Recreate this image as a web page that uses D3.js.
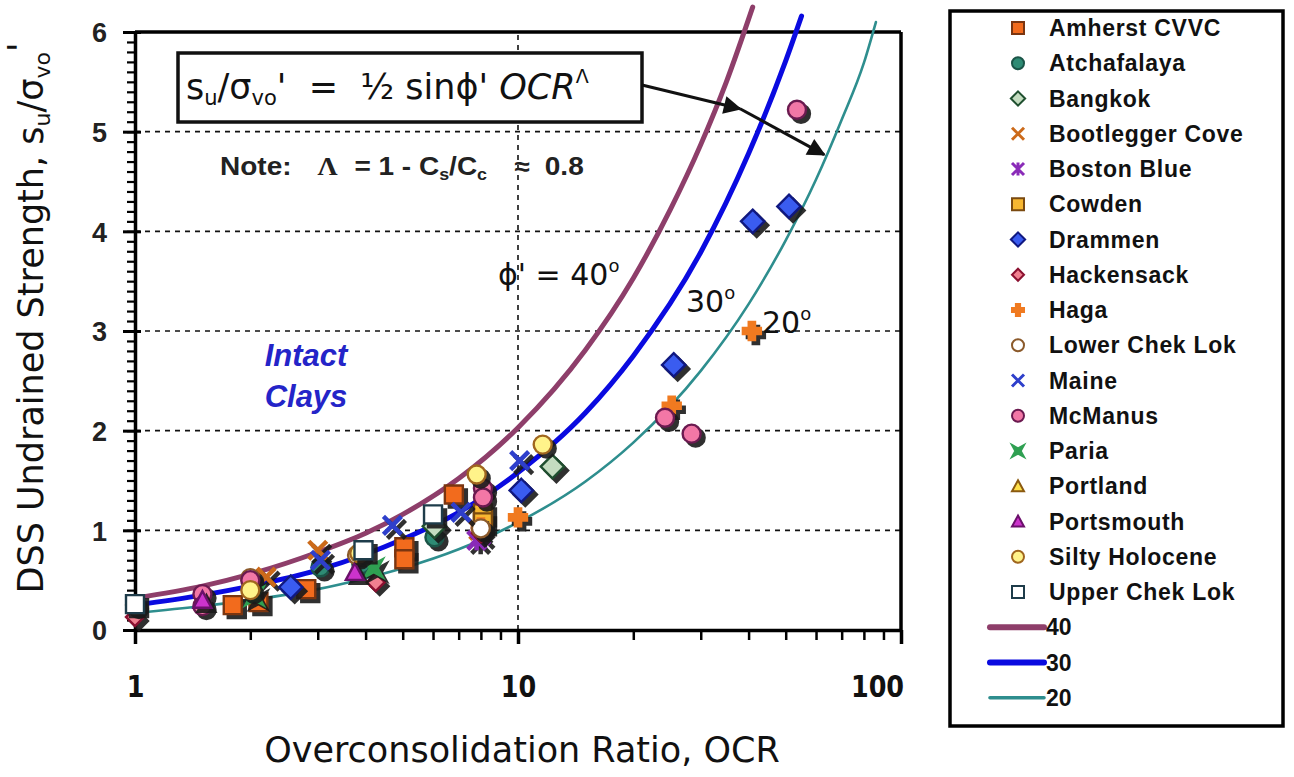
<!DOCTYPE html>
<html>
<head>
<meta charset="utf-8">
<script src="https://cdn.jsdelivr.net/npm/d3@7/dist/d3.min.js"></script>
<style>
  body { margin: 0; background: #fff; }
  svg { display: block; }
  text { white-space: pre; }
</style>
</head>
<body>
<script>
// data: [OCR, su/svo']
var amherst = [[1.8,0.25],[2.1,0.28],[2.8,0.41],[5.05,0.83],[5.05,0.71],[6.8,1.36]];
var atchafalaya = [[3.05,0.63],[3.9,0.66],[6.05,0.93]];
var bangkok = [[6.05,1.04],[12.3,1.64]];
var bootlegger = [[2.2,0.53],[3.0,0.8],[7.9,1.0]];
var bostonBlue = [[7.8,0.9],[8.0,0.95]];
var cowden = [[8.1,1.17],[8.1,1.08]];
var drammen = [[2.55,0.43],[10.2,1.4],[25.5,2.66],[41,4.1],[51,4.25]];
var hackensack = [[1.0,0.13],[4.25,0.48],[8.0,0.97]];
var haga = [[8.0,1.03],[10.0,1.13],[25.2,2.25],[40.8,3.0]];
var lowerChekLok = [[2.0,0.52],[3.8,0.75],[8.0,1.02]];
var maine = [[3.05,0.7],[4.7,1.05],[7.1,1.18],[10.1,1.7]];
var mcmanus = [[1.5,0.36],[1.5,0.24],[2.0,0.5],[8.1,1.42],[8.1,1.33],[24.2,2.13],[28.4,1.97],[53.5,5.22]];
var paria = [[2.05,0.34],[4.2,0.62]];
var portland = [];
var portsmouth = [[1.5,0.3],[3.75,0.58]];
var siltyHolocene = [[1.0,0.25],[2.0,0.4],[3.85,0.77],[7.8,1.56],[11.6,1.86]];
var upperChekLok = [[1.0,0.26],[3.95,0.8],[6.0,1.16]];

// curves for phi' = 40, 30, 20
var line40 = [[1,0.32],[1.5,0.44],[2,0.56],[3,0.78],[4,0.97],[5,1.16],[7,1.52],[10,2.03],[15,2.81],[20,3.53],[25,4.22],[30,4.87],[35,5.5],[41,6.25]];
var line30 = [[1,0.25],[1.5,0.35],[2,0.44],[3,0.6],[4,0.76],[5,0.91],[7,1.18],[10,1.58],[15,2.18],[20,2.75],[30,3.79],[40,4.78],[50,5.71],[55,6.16]];
var line20 = [[1,0.17],[1.5,0.24],[2,0.3],[3,0.41],[4,0.52],[5,0.62],[7,0.81],[10,1.08],[15,1.49],[20,1.88],[30,2.6],[40,3.27],[50,3.91],[60,4.52],[70,5.12],[80,5.69],[86,6.1]];

var seriesNames = ["Amherst CVVC","Atchafalaya","Bangkok","Bootlegger Cove","Boston Blue","Cowden","Drammen","Hackensack","Haga","Lower Chek Lok","Maine","McManus","Paria","Portland","Portsmouth","Silty Holocene","Upper Chek Lok"];
var seriesData = [amherst, atchafalaya, bangkok, bootlegger, bostonBlue, cowden, drammen, hackensack, haga, lowerChekLok, maine, mcmanus, paria, portland, portsmouth, siltyHolocene, upperChekLok];
var lineNames = ["40","30","20"];
var lineData = [line40, line30, line20];
var yTicks = [0,1,2,3,4,5,6];
var xTicks = [1,10,100];

// marker styles
var styles = [
  {shape:"square",   fill:"#f26b1d", stroke:"#7a3510"},
  {shape:"circle",   fill:"#2e8b74", stroke:"#1b5548"},
  {shape:"diamond",  fill:"#c4dcc0", stroke:"#1f4f2f"},
  {shape:"x",        fill:"none",    stroke:"#cc6a1a"},
  {shape:"asterisk", fill:"none",    stroke:"#8a2bb8"},
  {shape:"square",   fill:"#f7b731", stroke:"#7a4a10"},
  {shape:"diamond",  fill:"#3a5cf0", stroke:"#101880"},
  {shape:"diamondS", fill:"#f08090", stroke:"#8b1030"},
  {shape:"plus",     fill:"#f07a20", stroke:"#f07a20"},
  {shape:"circle",   fill:"#ffffff", stroke:"#8b5a2b"},
  {shape:"x",        fill:"none",    stroke:"#2e3fcb"},
  {shape:"circle",   fill:"#f277a6", stroke:"#6b1a50"},
  {shape:"bowtie",   fill:"#2fa052", stroke:"#2fa052"},
  {shape:"triangle", fill:"#ffe14a", stroke:"#8b5a10"},
  {shape:"triangle", fill:"#cc33cc", stroke:"#6b106b"},
  {shape:"circle",   fill:"#fff38a", stroke:"#a0661e"},
  {shape:"square",   fill:"#ffffff", stroke:"#1e3c4a"}
];
var lineColors = ["#8e3e6a","#0a0ae0","#2e8e8e"];
var lineWidths = [5, 5, 2.6];

var width = 1294, height = 777;
var comic = "'Comic Sans MS','DejaVu Sans',sans-serif";
var arial = "'Liberation Sans',Arial,sans-serif";

var svg = d3.select("body").append("svg")
  .attr("width", width).attr("height", height);
svg.append("rect").attr("width", width).attr("height", height).attr("fill", "#fff");

var x = d3.scaleLog().domain([1, 100]).range([135, 901]);
var y = d3.scaleLinear().domain([0, 6]).range([630, 32]);

// marker path builder
function markerPath(shape, r) {
  var p = d3.path();
  if (shape == "square") {
    p.rect(-r, -r, 2*r, 2*r);
  } else if (shape == "circle") {
    p.arc(0, 0, r, 0, 2*Math.PI);
  } else if (shape == "diamond") {
    r = r * 1.3;
    p.moveTo(0,-r); p.lineTo(r,0); p.lineTo(0,r); p.lineTo(-r,0); p.closePath();
  } else if (shape == "diamondS") {
    p.moveTo(0,-r); p.lineTo(r,0); p.lineTo(0,r); p.lineTo(-r,0); p.closePath();
  } else if (shape == "triangle") {
    p.moveTo(0,-r); p.lineTo(r,r*0.85); p.lineTo(-r,r*0.85); p.closePath();
  } else if (shape == "x") {
    p.moveTo(-r,-r); p.lineTo(r,r); p.moveTo(r,-r); p.lineTo(-r,r);
  } else if (shape == "asterisk") {
    p.moveTo(-r,-r); p.lineTo(r,r); p.moveTo(r,-r); p.lineTo(-r,r);
    p.moveTo(0,-r*1.1); p.lineTo(0,r*1.1);
  } else if (shape == "plus") {
    var t = r * 0.35;
    p.moveTo(-t,-r); p.lineTo(t,-r); p.lineTo(t,-t); p.lineTo(r,-t); p.lineTo(r,t); p.lineTo(t,t);
    p.lineTo(t,r); p.lineTo(-t,r); p.lineTo(-t,t); p.lineTo(-r,t); p.lineTo(-r,-t); p.lineTo(-t,-t); p.closePath();
  } else if (shape == "bowtie") {
    var s = r * 0.45;
    p.moveTo(-r,-r); p.lineTo(0,-s); p.lineTo(r,-r); p.lineTo(s,0); p.lineTo(r,r);
    p.lineTo(0,s); p.lineTo(-r,r); p.lineTo(-s,0); p.closePath();
  }
  return p.toString();
}
function strokeW(shape, big) {
  if (shape == "x" || shape == "asterisk") return big ? 4.5 : 3;
  return big ? 2.4 : 2;
}

// gridlines
var grid = svg.append("g");
grid.selectAll("line.h").data([1,2,3,4,5]).enter().append("line")
  .attr("x1", x(1)).attr("x2", x(100))
  .attr("y1", function(d){ return y(d); }).attr("y2", function(d){ return y(d); })
  .attr("stroke", "#111").attr("stroke-width", 1.6).attr("stroke-dasharray", "5,5");
grid.append("line")
  .attr("x1", x(10)).attr("x2", x(10)).attr("y1", y(0)).attr("y2", y(6))
  .attr("stroke", "#111").attr("stroke-width", 1.6).attr("stroke-dasharray", "5,5");

// plot frame top and right
svg.append("line").attr("x1", x(1)).attr("x2", x(100)).attr("y1", y(6)).attr("y2", y(6))
  .attr("stroke", "#000").attr("stroke-width", 3.5);
svg.append("line").attr("x1", x(100)).attr("x2", x(100)).attr("y1", y(6)).attr("y2", y(0))
  .attr("stroke", "#000").attr("stroke-width", 3.5);

// y axis: minor ticks then major
var yMinor = d3.range(0, 60).map(function(i){ return i / 10; });
var yAxisMinor = svg.append("g").attr("transform", "translate(" + x(1) + ",0)")
  .call(d3.axisLeft(y).tickValues(yMinor).tickSize(8).tickFormat(""));
yAxisMinor.select(".domain").remove();
yAxisMinor.selectAll("line").attr("stroke-width", 2.2);

var yAxis = svg.append("g").attr("transform", "translate(" + x(1) + ",0)")
  .call(d3.axisLeft(y).tickValues(yTicks).tickFormat(d3.format("d"))
    .tickSizeInner(12).tickSizeOuter(0).tickPadding(16));
yAxis.select(".domain").attr("stroke-width", 3.5);
yAxis.selectAll(".tick line").attr("stroke-width", 3).attr("x2", 6).attr("x1", -12);
yAxis.selectAll(".tick text").attr("font-family", arial).attr("font-weight", "bold")
  .attr("font-size", 27).attr("fill", "#222").attr("dy", "0.36em");

// x axis
var xMinor = [2,3,4,5,6,7,8,9,20,30,40,50,60,70,80,90];
var xAxisMinor = svg.append("g").attr("transform", "translate(0," + y(0) + ")")
  .call(d3.axisBottom(x).tickValues(xMinor).tickSize(10).tickFormat(""));
xAxisMinor.select(".domain").remove();
xAxisMinor.selectAll("line").attr("stroke-width", 2.5);

var xAxis = svg.append("g").attr("transform", "translate(0," + y(0) + ")")
  .call(d3.axisBottom(x).tickValues(xTicks).tickFormat(d3.format("d"))
    .tickSizeInner(14).tickSizeOuter(0).tickPadding(32));
xAxis.select(".domain").attr("stroke-width", 3.5);
xAxis.selectAll(".tick line").attr("stroke-width", 3.5);
xAxis.selectAll(".tick text").attr("font-family", comic).attr("font-size", 30)
  .attr("font-weight", "bold").attr("fill", "#111").attr("transform", "scale(0.85,1)")
  .attr("x", function(d){ return d == 100 ? -24 / 0.85 : 0; });

// theory curves
var lineGen = d3.line()
  .x(function(d){ return x(d[0]); })
  .y(function(d){ return y(d[1]); })
  .curve(d3.curveMonotoneX);
svg.append("g").selectAll("path").data(lineData).enter().append("path")
  .attr("d", lineGen)
  .attr("fill", "none")
  .attr("stroke", function(d, i){ return lineColors[i]; })
  .attr("stroke-width", function(d, i){ return lineWidths[i]; })
  .attr("stroke-linecap", "round");

// data markers with shadow
var marks = svg.append("g");
seriesData.forEach(function(pts, i) {
  var st = styles[i];
  var g = marks.append("g");
  var r = 9;
  // shadow
  g.selectAll("path.sh").data(pts).enter().append("path")
    .attr("class", "sh")
    .attr("d", markerPath(st.shape, r))
    .attr("transform", function(d){ return "translate(" + (x(d[0]) + 4) + "," + (y(d[1]) + 4) + ")"; })
    .attr("fill", st.fill == "none" ? "none" : "#1a1a1a")
    .attr("stroke", "#1a1a1a")
    .attr("stroke-width", strokeW(st.shape, true))
    .attr("opacity", 0.9);
  g.selectAll("path.mk").data(pts).enter().append("path")
    .attr("class", "mk")
    .attr("d", markerPath(st.shape, r))
    .attr("transform", function(d){ return "translate(" + x(d[0]) + "," + y(d[1]) + ")"; })
    .attr("fill", st.fill)
    .attr("stroke", st.stroke)
    .attr("stroke-width", strokeW(st.shape, true));
});

// formula box
svg.append("rect").attr("x", 178).attr("y", 53).attr("width", 464).attr("height", 69)
  .attr("fill", "#fff").attr("stroke", "#111").attr("stroke-width", 3.5);
var ft = svg.append("text").attr("x", 186).attr("y", 99)
  .attr("font-family", comic).attr("font-size", 35).attr("fill", "#111");
ft.append("tspan").text("s");
ft.append("tspan").attr("font-size", 21).attr("dy", 6).text("u");
ft.append("tspan").attr("dy", -6).text("/σ");
ft.append("tspan").attr("font-size", 21).attr("dy", 6).text("vo");
ft.append("tspan").attr("dy", -6).text("'  =  ½ sinϕ' ");
ft.append("tspan").attr("font-style", "italic").text("OCR");
ft.append("tspan").attr("font-size", 19).attr("dy", -16).text("Λ");

// arrows from the box to the curves
var defs = svg.append("defs");
defs.append("marker").attr("id", "arr").attr("viewBox", "0 0 10 10")
  .attr("refX", 9).attr("refY", 5)
  .attr("markerUnits", "userSpaceOnUse").attr("orient", "auto")
  .attr("markerWidth", 26).attr("markerHeight", 18)
  .append("path").attr("d", "M0,0 L10,5 L0,10 Z").attr("fill", "#111");
var a1 = [[642, 85], [x(38), y(5.23)]];
var a2 = [[x(38), y(5.23)], [x(63), y(4.77)]];
[a1, a2].forEach(function(a) {
  svg.append("line").attr("x1", a[0][0]).attr("y1", a[0][1]).attr("x2", a[1][0]).attr("y2", a[1][1])
    .attr("stroke", "#111").attr("stroke-width", 3).attr("marker-end", "url(#arr)");
});

// note (slightly stretched like the original)
var nt = svg.append("text").attr("transform", "translate(220,175) scale(1.12,1)")
  .attr("font-family", arial).attr("font-weight", "bold").attr("font-size", 25).attr("fill", "#222");
nt.append("tspan").attr("x", 0).text("Note:");
nt.append("tspan").attr("x", 87).attr("font-family", "'Liberation Serif',serif").text("Λ");
nt.append("tspan").attr("x", 120).text("= 1 - C");
nt.append("tspan").attr("font-size", 16).attr("dy", 5).text("s");
nt.append("tspan").attr("dy", -5).text("/C");
nt.append("tspan").attr("font-size", 16).attr("dy", 5).text("c");
nt.append("tspan").attr("dy", -5).attr("x", 263).text("≈");
nt.append("tspan").attr("x", 290).text("0.8");

// curve labels
function degLabel(px, py, txt) {
  var t = svg.append("text").attr("x", px).attr("y", py)
    .attr("font-family", comic).attr("font-size", 30).attr("fill", "#111");
  t.append("tspan").text(txt);
  t.append("tspan").attr("font-size", 18).attr("dy", -13).text("o");
}
degLabel(498, 285, "ϕ' = 40");
degLabel(686, 312, "30");
degLabel(762, 333, "20");

// Intact Clays
svg.append("text").attr("x", 306).attr("y", 366).attr("text-anchor", "middle")
  .attr("font-family", arial).attr("font-weight", "bold").attr("font-style", "italic")
  .attr("font-size", 31).attr("fill", "#2424c8").text("Intact");
svg.append("text").attr("x", 306).attr("y", 407).attr("text-anchor", "middle")
  .attr("font-family", arial).attr("font-weight", "bold").attr("font-style", "italic")
  .attr("font-size", 31).attr("fill", "#2424c8").text("Clays");

// axis titles
var yt = svg.append("text").attr("transform", "translate(43,318) rotate(-90)")
  .attr("text-anchor", "middle").attr("font-family", comic).attr("font-size", 35).attr("fill", "#111");
yt.append("tspan").text("DSS Undrained Strength, s");
yt.append("tspan").attr("font-size", 22).attr("dy", 7).text("u");
yt.append("tspan").attr("dy", -7).text("/σ");
yt.append("tspan").attr("font-size", 22).attr("dy", 7).text("vo");
yt.append("tspan").attr("dy", -17).text("'");

svg.append("text").attr("x", 522).attr("y", 762).attr("text-anchor", "middle")
  .attr("font-family", comic).attr("font-size", 35).attr("fill", "#111")
  .text("Overconsolidation Ratio, OCR");

// legend
var lg = svg.append("g");
lg.append("rect").attr("x", 950).attr("y", 11).attr("width", 333).attr("height", 715)
  .attr("fill", "#fff").attr("stroke", "#000").attr("stroke-width", 3.5);
var rowH = 35.25, row0 = 28;
seriesNames.forEach(function(name, i) {
  var st = styles[i];
  var cy = row0 + i * rowH;
  lg.append("path").attr("d", markerPath(st.shape, st.shape == "diamond" ? 5.5 : 6))
    .attr("transform", "translate(1018," + cy + ")")
    .attr("fill", st.fill).attr("stroke", st.stroke)
    .attr("stroke-width", strokeW(st.shape, false));
  lg.append("text").attr("x", 1049).attr("y", cy + 8)
    .attr("font-family", arial).attr("font-weight", "bold").attr("font-size", 23)
    .attr("letter-spacing", 0.7).attr("fill", "#111")
    .text(name);
});
lineNames.forEach(function(name, i) {
  var cy = row0 + (seriesNames.length + i) * rowH;
  lg.append("line").attr("x1", 990).attr("x2", 1044).attr("y1", cy).attr("y2", cy)
    .attr("stroke", lineColors[i]).attr("stroke-width", lineWidths[i] + 1).attr("stroke-linecap", "round");
  lg.append("text").attr("x", 1046).attr("y", cy + 8)
    .attr("font-family", arial).attr("font-weight", "bold").attr("font-size", 23).attr("fill", "#111")
    .text(name);
});
</script>
</body>
</html>
